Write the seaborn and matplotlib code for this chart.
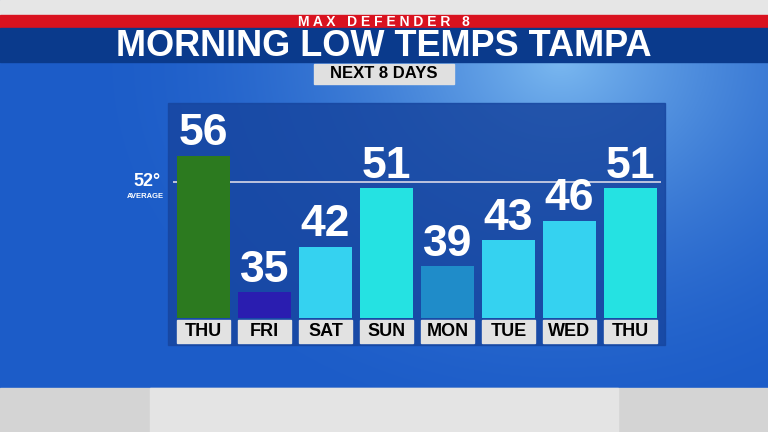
import matplotlib
matplotlib.use("Agg")
import matplotlib.pyplot as plt
import seaborn as sns
import numpy as np
import pandas as pd
from matplotlib.patches import Rectangle

days = ["THU", "FRI", "SAT", "SUN", "MON", "TUE", "WED", "THU"]
temps = [56, 35, 42, 51, 39, 43, 46, 51]
colors = ["#2c7a1f", "#2a1db0", "#35d2f0", "#25e2e2", "#1f8cc9", "#35d2f0", "#35d2f0", "#25e2e2"]
average = 52

sns.set_theme(style="white")
plt.rcParams['font.family'] = ['Liberation Sans', 'DejaVu Sans']

fig = plt.figure(figsize=(7.68, 4.32), dpi=100)
bg = fig.add_axes([0, 0, 1, 1])
bg.set_xlim(0, 768); bg.set_ylim(432, 0); bg.axis("off")
yy, xx = np.mgrid[0:432, 0:768]
r = np.hypot((xx - 560) / 500, (yy - 60) / 400)
base = np.array([0x1c, 0x5c, 0xc8]) / 255
light = np.array([0x7a, 0xb8, 0xf0]) / 255
t = np.clip(1 - r, 0, 1)[..., None] ** 2
img = base * (1 - t) + light * t
bg.imshow(img, extent=[0, 768, 432, 0], aspect="auto", zorder=0)
bg.add_patch(Rectangle((0, 0), 768, 15, color="#e6e6e6", zorder=1))
bg.add_patch(Rectangle((0, 15), 768, 13, color="#d9121f", zorder=1))
bg.add_patch(Rectangle((0, 28), 768, 34, color="#0a3a8c", zorder=1))
bg.add_patch(Rectangle((0, 388), 768, 44, color="#d4d4d4", zorder=1))
bg.add_patch(Rectangle((150, 388), 468, 44, color="#e4e4e4", zorder=1))
bg.add_patch(Rectangle((168, 103), 497, 242, color="#1746a0", alpha=0.85, zorder=1))
bg.add_patch(Rectangle((314, 64), 140, 20, color="#e0e0e0", zorder=2))
bg.text(384, 21.5, "M A X   D E F E N D E R   8", color="white", ha="center", va="center", fontsize=10, fontweight="bold", zorder=3)
bg.text(384, 46, "MORNING LOW TEMPS TAMPA", color="white", ha="center", va="center", fontsize=26, fontweight="bold", zorder=3)
bg.text(384, 74, "NEXT 8 DAYS", color="black", ha="center", va="center", fontsize=12, fontweight="bold", zorder=3)
bg.text(147, 182, "52°", color="white", ha="center", va="center", fontsize=13, fontweight="bold", zorder=3)
bg.text(145, 197, "AVERAGE", color="white", ha="center", va="center", fontsize=5.5, fontweight="bold", zorder=3)

ax = fig.add_axes([173/768, (432-318)/432, 488/768, 215/432])
ax.patch.set_alpha(0)
df = pd.DataFrame({"idx": [str(i) for i in range(len(days))], "temp": temps})
sns.barplot(data=df, x="idx", y="temp", hue="idx", palette=colors, legend=False,
            width=0.87, ax=ax, saturation=1, linewidth=0)
ax.set_ylim(31, 31 + 215 / 6.5)
ax.set_xlim(-0.5, 7.5)
ax.axhline(average, color="#d8d8e8", lw=1.2, zorder=0)
for i, (d, v) in enumerate(zip(days, temps)):
    ax.text(i, v + 0.2, str(v), color="white", ha="center", va="bottom", fontsize=32, fontweight="bold")
for i, d in enumerate(days):
    bg.add_patch(Rectangle((177 + i * 61, 320), 53, 23, color="#e2e2e2", zorder=3))
    bg.text(203.5 + i * 61, 332, d, color="black", ha="center", va="center", fontsize=13, fontweight="bold", zorder=4)
ax.axis("off")
fig.savefig("out.png", dpi=100)
